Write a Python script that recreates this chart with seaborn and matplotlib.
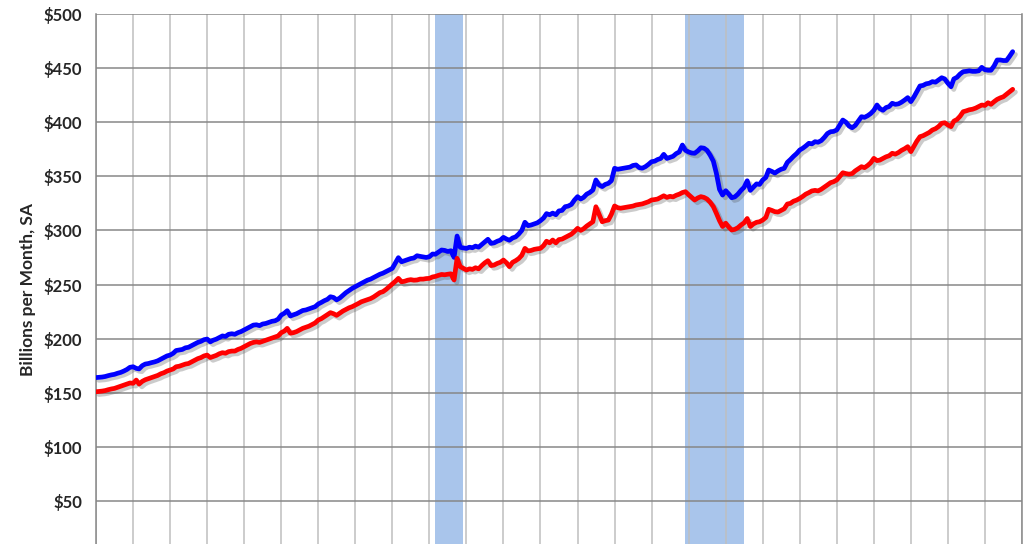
import numpy as np
import pandas as pd
import matplotlib
matplotlib.use("Agg")
import matplotlib.pyplot as plt
import matplotlib.patheffects as pe
import matplotlib.dates as mdates
from matplotlib.ticker import FuncFormatter
import seaborn as sns

# monthly retail sales, billions per month, SA (Jan 1992 - Oct 2016)
total_sales = [
    164.0, 164.3, 164.5, 165.0, 165.8, 166.5, 167.0, 168.0, 168.8, 170.0, 171.5, 173.5,  # 1992
    174.0, 172.5, 172.0, 175.0, 176.5, 177.0, 177.8, 178.5, 179.5, 181.0, 182.5, 184.0,  # 1993
    184.8, 186.5, 189.0, 189.5, 190.0, 191.5, 192.0, 193.5, 195.0, 196.5, 197.5, 199.0,  # 1994
    199.6, 197.0, 198.5, 199.5, 201.0, 202.5, 202.0, 204.0, 204.5, 204.0, 205.5, 206.5,  # 1995
    208.0, 209.5, 211.0, 212.5, 212.8, 212.0, 213.5, 214.0, 215.0, 216.0, 216.5, 218.0,  # 1996
    221.8, 223.5, 225.8, 220.9, 222.0, 223.0, 224.5, 226.0, 226.5, 227.5, 228.5, 229.5,  # 1997
    232.0, 233.5, 235.0, 236.3, 238.7, 238.0, 235.8, 237.5, 240.0, 242.5, 244.5, 246.4,  # 1998
    248.0, 249.5, 251.0, 252.5, 254.0, 255.0, 256.5, 258.0, 259.5, 260.5, 262.0, 263.5,  # 1999
    264.9, 270.0, 274.8, 271.0, 272.0, 273.0, 274.0, 274.5, 276.6, 276.0, 275.5, 275.0,  # 2000
    275.7, 278.2, 278.0, 280.0, 281.9, 281.5, 280.5, 281.2, 275.1, 294.8, 284.4, 283.8,  # 2001
    283.4, 284.5, 284.0, 285.5, 284.5, 287.0, 289.5, 291.8, 288.0, 288.5, 290.0, 291.0,  # 2002
    293.6, 292.0, 290.9, 293.0, 294.0, 296.7, 300.0, 307.5, 304.4, 305.0, 306.0, 307.0,  # 2003
    309.0, 311.5, 315.5, 314.5, 316.0, 314.5, 318.0, 318.5, 321.9, 322.5, 324.0, 328.0,  # 2004
    331.2, 329.0, 330.5, 333.5, 335.0, 337.3, 346.6, 342.0, 340.5, 342.5, 343.5, 346.0,  # 2005
    357.4, 356.5, 357.0, 357.5, 358.0, 358.5, 360.0, 360.5, 358.0, 357.5, 358.9, 361.0,  # 2006
    363.5, 364.0, 365.5, 366.5, 370.3, 366.5, 367.5, 368.5, 371.0, 372.5, 378.9, 374.0,  # 2007
    372.5, 371.5, 371.3, 373.5, 376.4, 376.0, 374.0, 369.5, 364.0, 352.8, 337.9, 332.7,  # 2008
    336.7, 333.5, 330.2, 331.0, 333.5, 337.0, 339.8, 345.9, 337.0, 340.0, 343.0, 342.5,  # 2009
    346.6, 349.0, 355.8, 354.5, 353.0, 355.0, 356.5, 357.4, 362.9, 365.5, 368.5, 371.0,  # 2010
    374.3, 376.0, 378.0, 380.5, 380.0, 382.0, 381.5, 383.0, 386.0, 389.5, 391.2, 391.5,  # 2011
    392.8, 397.5, 402.0, 400.0, 396.5, 394.9, 397.0, 401.0, 405.1, 404.5, 406.0, 408.0,  # 2012
    411.0, 415.9, 412.5, 411.0, 413.5, 414.5, 417.5, 416.5, 417.0, 418.5, 420.5, 422.7,  # 2013
    419.0, 423.5, 428.2, 433.5, 434.0, 435.5, 436.0, 437.5, 437.0, 439.0, 441.1, 440.0,  # 2014
    436.0, 432.8, 440.0, 441.5, 444.5, 446.7, 447.0, 447.5, 447.0, 447.0, 447.5, 450.7,  # 2015
    448.5, 448.0, 448.0, 452.0, 457.5, 457.5, 457.0, 457.0, 461.0, 465.2,                # 2016
]

ex_gas_sales = [
    150.9, 151.2, 151.5, 152.0, 152.8, 153.5, 154.0, 155.0, 156.0, 157.0, 158.0, 159.0,  # 1992
    158.7, 161.7, 158.0, 160.5, 162.0, 163.0, 164.0, 165.0, 166.0, 167.5, 168.5, 170.0,  # 1993
    171.0, 172.0, 174.0, 174.5, 175.5, 176.5, 177.0, 178.5, 180.0, 181.5, 182.5, 184.0,  # 1994
    184.8, 182.5, 183.5, 184.5, 186.0, 187.0, 186.5, 188.0, 188.5, 188.5, 190.0, 191.0,  # 1995
    192.5, 194.0, 195.5, 196.5, 197.0, 196.5, 197.5, 198.5, 199.5, 200.5, 201.5, 202.5,  # 1996
    205.5, 207.0, 209.5, 205.0, 205.5, 206.5, 208.0, 209.5, 210.5, 211.5, 213.0, 214.5,  # 1997
    217.2, 218.5, 220.2, 222.0, 224.0, 223.0, 221.5, 223.5, 225.5, 227.0, 228.5, 229.5,  # 1998
    231.0, 232.5, 234.0, 235.0, 236.0, 237.0, 238.5, 240.5, 242.5, 243.4, 245.5, 248.0,  # 1999
    250.5, 253.0, 255.7, 252.5, 253.0, 254.0, 254.5, 254.0, 254.2, 255.0, 255.0, 255.5,  # 2000
    255.7, 257.0, 257.5, 258.5, 259.3, 259.0, 259.5, 259.9, 254.2, 274.2, 266.5, 265.0,  # 2001
    263.4, 264.5, 264.0, 265.5, 264.5, 267.5, 270.0, 272.0, 267.5, 268.0, 269.5, 270.5,  # 2002
    272.6, 270.0, 266.5, 270.5, 272.0, 274.0, 277.0, 283.4, 281.0, 281.5, 282.5, 283.0,  # 2003
    283.4, 286.0, 290.0, 288.5, 291.1, 288.5, 291.5, 292.0, 293.5, 295.0, 296.5, 299.0,  # 2004
    301.9, 300.0, 301.5, 304.0, 306.0, 308.0, 321.9, 315.0, 308.0, 309.0, 309.6, 315.0,  # 2005
    322.6, 321.0, 320.5, 321.0, 321.5, 322.0, 322.5, 323.5, 324.0, 324.5, 325.5, 326.5,  # 2006
    328.1, 328.5, 329.0, 330.5, 332.0, 330.5, 331.5, 331.0, 332.5, 333.5, 335.0, 335.8,  # 2007
    333.0, 330.5, 328.1, 330.0, 331.2, 330.5, 329.0, 326.0, 322.0, 315.8, 309.0, 303.6,  # 2008
    306.7, 303.0, 300.4, 301.0, 302.5, 305.0, 307.0, 311.0, 303.6, 306.0, 307.5, 308.0,  # 2009
    309.6, 312.0, 319.5, 318.5, 317.3, 317.0, 318.5, 320.0, 324.4, 325.0, 327.0, 328.0,  # 2010
    329.6, 331.5, 333.5, 334.9, 336.5, 337.0, 336.5, 338.0, 340.0, 342.0, 344.1, 345.0,  # 2011
    346.6, 350.0, 353.3, 352.5, 352.0, 352.5, 355.0, 357.0, 358.9, 358.0, 360.0, 362.5,  # 2012
    366.6, 364.5, 365.0, 366.5, 368.0, 369.0, 371.3, 370.5, 372.0, 374.0, 375.5, 377.4,  # 2013
    372.8, 378.0, 382.5, 386.6, 387.5, 389.0, 390.5, 392.8, 394.0, 396.0, 399.0, 399.5,  # 2014
    397.5, 395.9, 401.0, 402.5, 405.5, 409.7, 410.5, 411.5, 412.0, 413.0, 414.5, 415.9,  # 2015
    415.5, 418.0, 416.5, 419.0, 421.1, 422.5, 423.5, 425.8, 428.0, 430.4,                # 2016
]

start_month = "1992-01-01"
recessions = [("2001-03-01", "2001-12-01"), ("2007-12-01", "2009-07-01")]
y_ticks = [50, 100, 150, 200, 250, 300, 350, 400, 450, 500]

dates = pd.date_range(start_month, periods=len(total_sales), freq="MS")
df = pd.DataFrame({"date": dates, "total": total_sales, "ex_gas": ex_gas_sales})

sns.set_style("white")
plt.rcParams["font.family"] = ["Lato", "DejaVu Sans"]

fig = plt.figure(figsize=(10.36, 5.44), dpi=100)
ax = fig.add_axes([96 / 1036, 0.0, (1022 - 96) / 1036, (544 - 14) / 544])

for a, b in recessions:
    ax.axvspan(pd.Timestamp(a), pd.Timestamp(b), color="#A9C5EB", zorder=0, lw=0)

shadow = [pe.SimpleLineShadow(offset=(2, -2), shadow_color="#555555", alpha=0.3),
          pe.Normal()]
sns.lineplot(data=df, x="date", y="total", color="#0000FF", lw=3.4, ax=ax,
             path_effects=shadow, zorder=3)
sns.lineplot(data=df, x="date", y="ex_gas", color="#FF0000", lw=3.4, ax=ax,
             path_effects=shadow, zorder=3)

ax.set_xlim(pd.Timestamp("1992-01-01"), pd.Timestamp("2017-01-01"))
ax.set_ylim(10.2, 500)
ax.set_yticks(y_ticks)
ax.yaxis.set_major_formatter(FuncFormatter(lambda v, p: f"${v:.0f}"))
ax.xaxis.set_major_locator(mdates.YearLocator(1))
ax.set_xticklabels([])

ax.set_axisbelow(True)
ax.grid(axis="y", color="#878787", lw=1.1)
ax.grid(axis="x", color="#BFBFBF", lw=1.1)

for side in ["top", "bottom"]:
    ax.spines[side].set_visible(False)
for side in ["left", "right"]:
    ax.spines[side].set_color("#878787")
    ax.spines[side].set_linewidth(1.1)

ax.tick_params(axis="y", length=6, width=1.1, color="#878787", pad=4,
               labelsize=12)
ax.tick_params(axis="x", length=0)
for lbl in ax.get_yticklabels():
    lbl.set_fontweight("bold")

ax.set_xlabel("")
ax.set_ylabel("Billions per Month, SA", fontsize=12.5, fontweight="bold")
ax.yaxis.set_label_coords(-0.065, 0.481)

fig.savefig("out.png", dpi=100)
